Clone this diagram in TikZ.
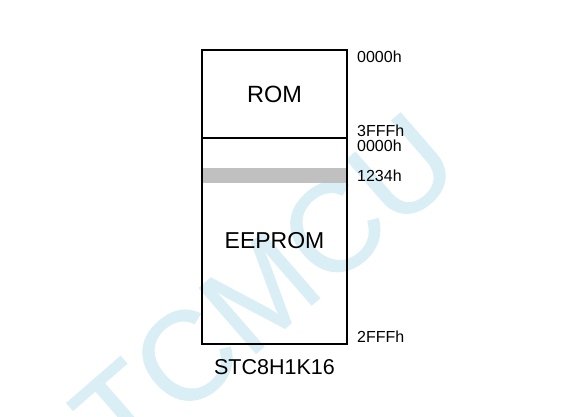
\documentclass[tikz,border=0pt]{standalone}
\usepackage{fontspec}
\setmainfont{Liberation Sans}
\newfontfamily\markfont{Liberation Sans}[FakeBold=0.8]
\usetikzlibrary{positioning}

\definecolor{markblue}{RGB}{218,238,245}
\definecolor{bandgray}{RGB}{192,192,192}

\begin{document}
\begin{tikzpicture}[x=1pt, y=-1pt]
    \useasboundingbox (0,0) rectangle (566,417);

    % watermark behind everything
    \node[text=markblue, rotate=41, inner sep=0, font=\markfont\fontsize{126}{126}\selectfont] (mark) at (233,316) {STCMCU};

    % memory blocks
    \fill[bandgray] (203,168) rectangle (346,183);
    \node[draw=black, line width=1.6pt, minimum width=145pt, minimum height=88pt, font=\fontsize{23.5}{23.5}\selectfont] (rom) at (274.5,94) {ROM};
    \node[draw=black, line width=1.6pt, minimum width=145pt, minimum height=206pt, font=\fontsize{23}{23}\selectfont] (eeprom) at (274.5,241) {EEPROM};
    \node[inner sep=0, below=14pt of eeprom, font=\fontsize{21.5}{21.5}\selectfont] (chip) {STC8H1K16};

    % addresses
    \node[anchor=west, inner sep=0, font=\fontsize{16}{16}\selectfont] (romstart) at (357,57) {0000h};
    \node[anchor=west, inner sep=0, font=\fontsize{16}{16}\selectfont] (romend) at (357,131) {3FFFh};
    \node[anchor=west, inner sep=0, font=\fontsize{16}{16}\selectfont] (eestart) at (357,146) {0000h};
    \node[anchor=west, inner sep=0, font=\fontsize{16}{16}\selectfont] (eeaddr) at (357,176) {1234h};
    \node[anchor=west, inner sep=0, font=\fontsize{16}{16}\selectfont] (eeend) at (357,337) {2FFFh};
\end{tikzpicture}
\end{document}
